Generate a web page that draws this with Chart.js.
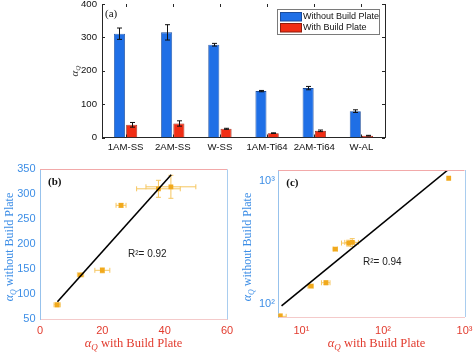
<!DOCTYPE html>
<html>
<head>
<meta charset="utf-8">
<script src="https://cdn.jsdelivr.net/npm/chart.js@4"></script>
<style>
  html, body { margin: 0; padding: 0; background: #fff; }
  #wrap { position: relative; width: 474px; height: 354px; overflow: hidden; }
  canvas { position: absolute; }
</style>
</head>
<body>
<div id="wrap">
  <canvas id="chartA" width="474" height="162" style="left:0;top:0"></canvas>
  <canvas id="chartB" width="236" height="192" style="left:0;top:162px"></canvas>
  <canvas id="chartC" width="238" height="192" style="left:236px;top:162px"></canvas>
</div>
<script>
// data
const materials = ['1AM-SS', '2AM-SS', 'W-SS', '1AM-Ti64', '2AM-Ti64', 'W-AL']
const withoutPlate = [311, 315, 278, 139, 148, 79]
const withoutPlateErr = [17, 23, 4, 2, 5, 4]
const withPlate = [38, 42, 26, 13, 20, 5.5]
const withPlateErr = [7, 8, 1.6, 1, 2.4, 1]
// extra point only shown on the log-log panel
const extraWith = [640]
const extraWithout = [1045]
// fitted lines, read at their ends
const fitLinX = [5.6, 42.1]
const fitLinY = [85, 339]
const fitLogX = [5.7, 625]
const fitLogY = [96, 1220]
// tick values
const yTicksA = [0, 100, 200, 300, 400]
const xTicksB = [0, 20, 40, 60]
const yTicksB = [50, 100, 150, 200, 250, 300, 350]
const decadesC = [10, 100, 1000]
const supers = { 1: '¹', 2: '²', 3: '³' }

const SANS = '"Liberation Sans", Arial, sans-serif'
const SERIF = '"Liberation Serif", "Times New Roman", serif'
const BLUE_TXT = '#3d8ee6'
const RED_TXT = '#e23b2e'
const ORANGE = '#f1a91c'
const ORANGE_ERR = '#f6c660'

Chart.defaults.font.family = SANS

// pin the axis box sizes so the plot areas land where they should
const fixBox = size => scale => {
  if (scale.isHorizontal()) scale.height = size
  else scale.width = size
  scale.paddingLeft = scale.paddingRight = scale.paddingTop = scale.paddingBottom = 0
}
const setTicks = values => scale => {
  scale.ticks = values.map(v => ({ value: v }))
}
const noGrid = { display: false, drawTicks: false }

function alphaTitle(ctx, x, y, rest, size, color, rotate) {
  ctx.save()
  ctx.translate(x, y)
  if (rotate) ctx.rotate(-Math.PI / 2)
  ctx.fillStyle = color
  ctx.textBaseline = 'middle'
  ctx.textAlign = 'left'
  const it = `italic ${size}px ${SERIF}`
  const sub = `italic ${Math.round(size * 0.68)}px ${SERIF}`
  const rm = `${size}px ${SERIF}`
  ctx.font = it
  const wa = ctx.measureText('α').width
  ctx.font = sub
  const wq = ctx.measureText('Q').width
  ctx.font = rm
  const wr = ctx.measureText(rest).width
  let px = -(wa + wq + wr) / 2
  ctx.font = it
  ctx.fillText('α', px, 0)
  px += wa
  ctx.font = sub
  ctx.fillText('Q', px, size * 0.3)
  px += wq
  ctx.font = rm
  ctx.fillText(rest, px, 0)
  ctx.restore()
}

// ---------- (a) bars ----------
const barErrors = {
  id: 'barErrors',
  afterDatasetsDraw(chart) {
    const ctx = chart.ctx
    const y = chart.scales.y
    const errs = [withoutPlateErr, withPlateErr]
    ctx.save()
    ctx.strokeStyle = '#111'
    ctx.lineWidth = 1
    chart.data.datasets.forEach((ds, di) => {
      chart.getDatasetMeta(di).data.forEach((bar, i) => {
        const v = ds.data[i]
        const e = errs[di][i]
        const top = y.getPixelForValue(v + e)
        const bot = y.getPixelForValue(v - e)
        const x = Math.round(bar.x) + 0.5
        ctx.beginPath()
        ctx.moveTo(x, top); ctx.lineTo(x, bot)
        ctx.moveTo(x - 2.5, top); ctx.lineTo(x + 2.5, top)
        ctx.moveTo(x - 2.5, bot); ctx.lineTo(x + 2.5, bot)
        ctx.stroke()
      })
    })
    ctx.restore()
  },
}

const decorA = {
  id: 'decorA',
  afterDraw(chart) {
    const ctx = chart.ctx
    const { left, right, top, bottom } = chart.chartArea
    const y = chart.scales.y
    const x = chart.scales.x
    ctx.save()
    ctx.strokeStyle = '#262626'
    ctx.lineWidth = 1
    ctx.beginPath()
    ctx.moveTo(right + 0.5, top); ctx.lineTo(right + 0.5, bottom)
    yTicksA.forEach(v => {
      const py = Math.round(y.getPixelForValue(v)) + 0.5
      ctx.moveTo(left, py); ctx.lineTo(left + 3, py)
      ctx.moveTo(right, py); ctx.lineTo(right - 3, py)
    })
    materials.forEach((m, i) => {
      const px = Math.round(x.getPixelForValue(i)) + 0.5
      ctx.moveTo(px, top); ctx.lineTo(px, top + 3)
      ctx.moveTo(px, bottom); ctx.lineTo(px, bottom - 3)
    })
    ctx.stroke()

    // legend
    ctx.fillStyle = '#fff'
    ctx.fillRect(277.5, 9.5, 102, 25)
    ctx.strokeStyle = '#7a7a7a'
    ctx.strokeRect(277.5, 9.5, 102, 25)
    const ds = chart.data.datasets
    ;[12.5, 23.5].forEach((py, i) => {
      ctx.fillStyle = ds[i].backgroundColor
      ctx.fillRect(280.5, py, 21, 8.5)
      ctx.strokeStyle = ds[i].borderColor
      ctx.strokeRect(280.5, py, 21, 8.5)
      ctx.fillStyle = '#111'
      ctx.font = `9px ${SANS}`
      ctx.textBaseline = 'middle'
      ctx.fillText(ds[i].label, 303, py + 4.5)
    })

    ctx.fillStyle = '#111'
    ctx.font = `11px ${SERIF}`
    ctx.textBaseline = 'middle'
    ctx.fillText('(a)', 105, 14)
    ctx.restore()
    alphaTitle(ctx, 75, 71, '', 11, '#333', true)
  },
}

new Chart(document.getElementById('chartA'), {
  type: 'bar',
  data: {
    labels: materials,
    datasets: [
      {
        label: 'Without Build Plate',
        data: withoutPlate,
        backgroundColor: '#1f6fe6',
        borderColor: '#1b4c9c',
        borderWidth: 0.8,
      },
      {
        label: 'With Build Plate',
        data: withPlate,
        backgroundColor: '#f02d14',
        borderColor: '#8e1c0c',
        borderWidth: 0.8,
      },
    ],
  },
  plugins: [barErrors, decorA],
  options: {
    animation: false,
    responsive: false,
    layout: { padding: { left: 0, top: 4, right: 89, bottom: 0 } },
    categoryPercentage: 0.52,
    barPercentage: 0.9,
    plugins: { legend: { display: false }, tooltip: { enabled: false } },
    scales: {
      x: {
        grid: noGrid,
        border: { color: '#262626', width: 1 },
        ticks: { color: '#111', font: { size: 9.6 }, padding: 4.5, maxRotation: 0 },
        afterFit: fixBox(162 - 137.5),
      },
      y: {
        min: 0,
        max: 400,
        grid: noGrid,
        border: { color: '#262626', width: 1 },
        afterBuildTicks: setTicks(yTicksA),
        ticks: { color: '#111', font: { size: 9.6 }, padding: 5 },
        afterFit: fixBox(102),
      },
    },
  },
})

// ---------- (b) and (c) scatter ----------
const pointErrors = () => ({
  id: 'pointErrors',
  beforeDatasetsDraw(chart) {
    const ctx = chart.ctx
    const { x: sx, y: sy } = chart.scales
    const a = chart.chartArea
    ctx.save()
    ctx.beginPath()
    ctx.rect(a.left, a.top, a.right - a.left, a.bottom - a.top)
    ctx.clip()
    ctx.strokeStyle = ORANGE_ERR
    ctx.lineWidth = 1
    ctx.beginPath()
    withPlate.forEach((xv, i) => {
      const yv = withoutPlate[i]
      const ex = withPlateErr[i]
      const ey = withoutPlateErr[i]
      const px = sx.getPixelForValue(xv)
      const py = sy.getPixelForValue(yv)
      const x0 = sx.getPixelForValue(xv - ex)
      const x1 = sx.getPixelForValue(xv + ex)
      const y0 = sy.getPixelForValue(yv - ey)
      const y1 = sy.getPixelForValue(yv + ey)
      ctx.moveTo(x0, py); ctx.lineTo(x1, py)
      ctx.moveTo(x0, py - 2.5); ctx.lineTo(x0, py + 2.5)
      ctx.moveTo(x1, py - 2.5); ctx.lineTo(x1, py + 2.5)
      ctx.moveTo(px, y0); ctx.lineTo(px, y1)
      ctx.moveTo(px - 2.5, y0); ctx.lineTo(px + 2.5, y0)
      ctx.moveTo(px - 2.5, y1); ctx.lineTo(px + 2.5, y1)
    })
    ctx.stroke()
    ctx.restore()
  },
})

const decorXY = (panel, r2, r2x, r2y, ytx, xtx, xty) => ({
  id: 'decorXY',
  afterDraw(chart) {
    const ctx = chart.ctx
    const { left, right, top, bottom } = chart.chartArea
    ctx.save()
    ctx.lineWidth = 1
    ctx.strokeStyle = '#f2a9a9'
    ctx.beginPath()
    ctx.moveTo(left, Math.round(top) + 0.5); ctx.lineTo(right, Math.round(top) + 0.5)
    ctx.stroke()
    ctx.strokeStyle = '#a9cdef'
    ctx.beginPath()
    ctx.moveTo(Math.round(right) + 0.5, top); ctx.lineTo(Math.round(right) + 0.5, bottom)
    ctx.stroke()

    ctx.fillStyle = '#111'
    ctx.font = `bold 11px ${SERIF}`
    ctx.textBaseline = 'middle'
    ctx.fillText(panel, left + 8, top + 13)

    ctx.font = `10px ${SANS}`
    ctx.fillStyle = '#222'
    ctx.fillText(r2, r2x, r2y)
    ctx.restore()
    alphaTitle(ctx, ytx, 85, ' without Build Plate', 12, BLUE_TXT, true)
    alphaTitle(ctx, xtx, xty, ' with Build Plate', 12.5, RED_TXT, false)
  },
})

const axisX = {
  grid: noGrid,
  border: { color: '#f4caca', width: 1 },
}
const axisY = {
  grid: noGrid,
  border: { color: '#97c2ec', width: 1 },
}

new Chart(document.getElementById('chartB'), {
  type: 'scatter',
  data: {
    datasets: [
      {
        data: fitLinX.map((x, i) => ({ x, y: fitLinY[i] })),
        showLine: true,
        borderColor: '#000',
        borderWidth: 1.6,
        pointRadius: 0,
      },
      {
        data: withPlate.map((x, i) => ({ x, y: withoutPlate[i] })),
        pointStyle: 'rect',
        pointRadius: 3.4,
        backgroundColor: ORANGE,
        borderWidth: 0,
      },
    ],
  },
  plugins: [pointErrors(), decorXY('(b)', 'R²= 0.92', 128, 92, 10, 133.5, 182)],
  options: {
    animation: false,
    responsive: false,
    layout: { padding: { left: 0, top: 7.3, right: 9, bottom: 0 } },
    plugins: { legend: { display: false }, tooltip: { enabled: false } },
    scales: {
      x: {
        ...axisX,
        type: 'linear',
        min: 0,
        max: 60,
        afterBuildTicks: setTicks(xTicksB),
        ticks: { color: RED_TXT, font: { size: 11 }, padding: 5, maxRotation: 0 },
        afterFit: fixBox(192 - 157.3),
      },
      y: {
        ...axisY,
        type: 'linear',
        min: 50,
        max: 350,
        afterBuildTicks: setTicks(yTicksB),
        ticks: { color: BLUE_TXT, font: { size: 11 }, padding: 4.5 },
        afterFit: fixBox(40),
      },
    },
  },
})

const decadeLabel = v => {
  const e = Math.round(Math.log10(v))
  return '10' + supers[e]
}

new Chart(document.getElementById('chartC'), {
  type: 'scatter',
  data: {
    datasets: [
      {
        data: fitLogX.map((x, i) => ({ x, y: fitLogY[i] })),
        showLine: true,
        borderColor: '#000',
        borderWidth: 1.6,
        pointRadius: 0,
      },
      {
        data: withPlate.concat(extraWith).map((x, i) => ({ x, y: withoutPlate.concat(extraWithout)[i] })),
        pointStyle: 'rect',
        pointRadius: 3.4,
        backgroundColor: ORANGE,
        borderWidth: 0,
      },
    ],
  },
  plugins: [pointErrors(), decorXY('(c)', 'R²= 0.94', 127, 100, 12, 140.5, 182)],
  options: {
    animation: false,
    responsive: false,
    layout: { padding: { left: 0, top: 8, right: 9.5, bottom: 0 } },
    plugins: { legend: { display: false }, tooltip: { enabled: false } },
    scales: {
      x: {
        ...axisX,
        type: 'logarithmic',
        min: 5.2,
        max: 1000,
        afterBuildTicks: setTicks(decadesC),
        ticks: { color: RED_TXT, font: { size: 11 }, padding: 7, maxRotation: 0, autoSkip: false, callback: decadeLabel },
        afterFit: fixBox(192 - 155),
      },
      y: {
        ...axisY,
        type: 'logarithmic',
        min: 78,
        max: 1220,
        afterBuildTicks: setTicks([100, 1000]),
        ticks: { color: BLUE_TXT, font: { size: 11 }, padding: 3.5, autoSkip: false, callback: decadeLabel },
        afterFit: fixBox(42.3),
      },
    },
  },
})
</script>
</body>
</html>
